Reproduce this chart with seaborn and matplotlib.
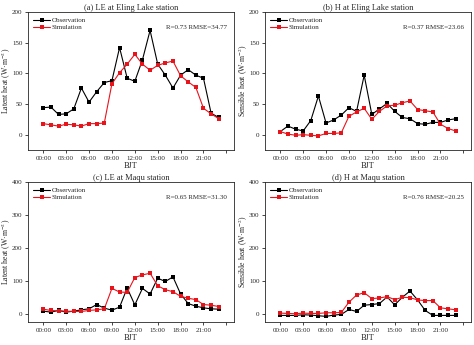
import numpy as np
import pandas as pd
import matplotlib
matplotlib.use("Agg")
import matplotlib.pyplot as plt
import seaborn as sns

hours = list(range(24))
xtick_labels = ["00:00", "03:00", "06:00", "09:00", "12:00", "15:00", "18:00", "21:00", ""]

le_eling_obs = [44, 45, 33, 34, 42, 76, 53, 70, 85, 88, 142, 92, 87, 122, 170, 115, 97, 76, 97, 106, 97, 92, 35, 28]
le_eling_sim = [18, 16, 14, 17, 16, 14, 18, 18, 19, 83, 101, 115, 131, 115, 105, 113, 117, 120, 96, 86, 77, 43, 34, 26]
h_eling_obs = [5, 14, 9, 6, 23, 63, 19, 24, 32, 44, 38, 97, 33, 42, 51, 38, 28, 26, 18, 17, 20, 20, 24, 26]
h_eling_sim = [5, 1, -1, 0, -1, -2, 2, 2, 3, 30, 37, 43, 25, 38, 47, 48, 52, 55, 41, 39, 37, 17, 10, 6]
le_maqu_obs = [8, 5, 10, 5, 8, 12, 15, 28, 17, 11, 20, 78, 27, 77, 60, 108, 98, 112, 60, 31, 23, 18, 15, 14]
le_maqu_sim = [14, 10, 9, 8, 7, 7, 10, 12, 15, 77, 66, 65, 110, 118, 123, 85, 73, 67, 53, 47, 43, 28, 26, 22]
h_maqu_obs = [-5, -5, -5, -3, -4, -6, -8, -4, -2, 13, 7, 26, 28, 31, 51, 27, 50, 69, 42, 10, -5, -5, -5, -5]
h_maqu_sim = [2, 1, 0, 2, 1, 1, 3, 3, 4, 35, 57, 64, 46, 48, 52, 43, 50, 49, 42, 40, 40, 18, 15, 12]

titles = ["(a) LE at Eling Lake station", "(b) H at Eling Lake station",
          "(c) LE at Maqu station", "(d) H at Maqu station"]
stats = ["R=0.73 RMSE=34.77", "R=0.37 RMSE=23.66", "R=0.65 RMSE=31.30", "R=0.76 RMSE=20.25"]
ylabels = ["Latent heat (W\u00b7m$^{-2}$)", "Sensible heat (W\u00b7m$^{-2}$)",
           "Latent heat (W\u00b7m$^{-2}$)", "Sensible heat (W\u00b7m$^{-2}$)"]
series = [(le_eling_obs, le_eling_sim), (h_eling_obs, h_eling_sim),
          (le_maqu_obs, le_maqu_sim), (h_maqu_obs, h_maqu_sim)]
top_yticks = [0, 50, 100, 150, 200]
bottom_yticks = [0, 100, 200, 300, 400]

sns.set_style("ticks")
plt.rcParams['font.family'] = ['Liberation Serif', 'DejaVu Serif']
plt.rcParams['mathtext.fontset'] = 'stix'

W, H = 474, 345
fig = plt.figure(figsize=(W / 100, H / 100), dpi=100)

def box(l, t, r, b):
    return [l / W, 1 - b / H, (r - l) / W, (b - t) / H]

positions = [box(28, 12, 234, 150), box(265, 12, 471, 150),
             box(28, 182, 234, 322), box(265, 182, 471, 322)]
ylims = [(-25, 200), (-25, 200), (-25, 400), (-25, 400)]

for i in range(4):
    ax = fig.add_axes(positions[i])
    obs, sim = series[i]
    df = pd.DataFrame({
        "hour": hours * 2,
        "value": obs + sim,
        "kind": ["Observation"] * 24 + ["Simulation"] * 24,
    })
    sns.lineplot(data=df, x="hour", y="value", hue="kind",
                 palette={"Observation": "black", "Simulation": "#e8141c"},
                 marker="s", markersize=3.0, markeredgewidth=0, linewidth=0.8,
                 ax=ax, legend=True)
    ax.set_xlim(-2, 25)
    ax.set_ylim(*ylims[i])
    ax.set_xticks(range(0, 25, 3))
    ax.set_xticklabels(xtick_labels, fontsize=5)
    yt = top_yticks if i < 2 else bottom_yticks
    ax.set_yticks(yt)
    ax.set_yticklabels([str(v) for v in yt], fontsize=5)
    ax.tick_params(direction="out", length=2.5, width=0.6, pad=1.5)
    for s in ax.spines.values():
        s.set_visible(True)
        s.set_linewidth(0.6)
    ax.set_xlabel("BJT", fontsize=6, labelpad=1)
    ax.set_ylabel(ylabels[i], fontsize=5.6)
    ax.yaxis.set_label_coords(-0.072, 0.5)
    ax.set_title(titles[i], fontsize=6, pad=0.5)
    ax.text(0.965, 0.89, stats[i], transform=ax.transAxes, ha="right", va="center", fontsize=5)
    leg = ax.legend(loc="upper left", frameon=False, fontsize=5, handlelength=2.5,
                    handletextpad=0.2, borderaxespad=0.0, labelspacing=0.15,
                    bbox_to_anchor=(0.01, 0.98))
    for h in leg.legend_handles:
        h.set_markersize(3.0)

fig.savefig("out.png", dpi=100)
